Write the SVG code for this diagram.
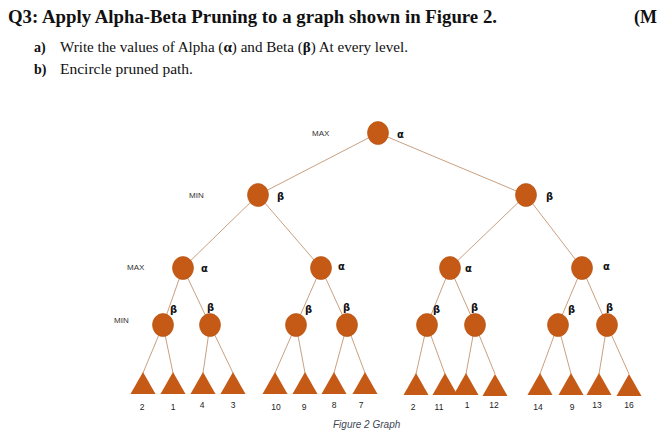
<svg xmlns="http://www.w3.org/2000/svg" width="658" height="440" viewBox="0 0 658 440">
<style>
.hd{font-family:"Liberation Serif","Times New Roman",serif;fill:#111}
.b{font-weight:bold}
.lv{font-family:"Liberation Sans",Arial,sans-serif;font-size:8px;fill:#333}
.gk{font-family:"DejaVu Sans","Liberation Sans",sans-serif;font-size:10px;font-weight:bold;fill:#111}
.num{font-family:"Liberation Sans",Arial,sans-serif;font-size:8.5px;fill:#222;text-anchor:middle}
.cap{font-family:"Liberation Sans",Arial,sans-serif;font-size:10px;font-style:italic;fill:#3e4654}
.edge{stroke:#c9a080;stroke-width:1;fill:none}
.nd{fill:#c55a16;stroke:#b5530f;stroke-width:0.6}
.lf{fill:#c55a16}
</style>
<rect width="658" height="440" fill="#ffffff"/>
<g id="header">
<text class="hd b" x="8" y="23" font-size="18" textLength="489" lengthAdjust="spacingAndGlyphs">Q3: Apply Alpha-Beta Pruning to a graph shown in Figure 2.</text>
<text class="hd b" x="634" y="23" font-size="18">(M</text>
<text class="hd b" x="34" y="52" font-size="14">a)</text>
<text class="hd" x="60" y="52" font-size="14" textLength="348" lengthAdjust="spacingAndGlyphs">Write the values of Alpha (<tspan font-weight="bold">α</tspan>) and Beta (<tspan font-weight="bold">β</tspan>) At every level.</text>
<text class="hd b" x="34" y="74" font-size="14">b)</text>
<text class="hd" x="60" y="74" font-size="14" textLength="133" lengthAdjust="spacingAndGlyphs">Encircle pruned path.</text>
</g>
<g id="connectors">
<line class="edge" x1="378" y1="133" x2="258" y2="195"/>
<line class="edge" x1="378" y1="133" x2="526" y2="195"/>
<line class="edge" x1="258" y1="195" x2="183" y2="268"/>
<line class="edge" x1="258" y1="195" x2="321" y2="268"/>
<line class="edge" x1="526" y1="195" x2="450" y2="268"/>
<line class="edge" x1="526" y1="195" x2="582" y2="268"/>
<line class="edge" x1="183" y1="268" x2="163" y2="325"/>
<line class="edge" x1="183" y1="268" x2="210" y2="325"/>
<line class="edge" x1="321" y1="268" x2="296" y2="325"/>
<line class="edge" x1="321" y1="268" x2="347" y2="325"/>
<line class="edge" x1="450" y1="268" x2="427" y2="325"/>
<line class="edge" x1="450" y1="268" x2="475" y2="325"/>
<line class="edge" x1="582" y1="268" x2="558" y2="325"/>
<line class="edge" x1="582" y1="268" x2="607" y2="325"/>
<line class="edge" x1="163" y1="325" x2="143" y2="373"/>
<line class="edge" x1="163" y1="325" x2="173" y2="373"/>
<line class="edge" x1="210" y1="325" x2="203" y2="373"/>
<line class="edge" x1="210" y1="325" x2="233" y2="373"/>
<line class="edge" x1="296" y1="325" x2="275" y2="373"/>
<line class="edge" x1="296" y1="325" x2="305" y2="373"/>
<line class="edge" x1="347" y1="325" x2="334" y2="373"/>
<line class="edge" x1="347" y1="325" x2="365" y2="373"/>
<line class="edge" x1="427" y1="325" x2="416" y2="374"/>
<line class="edge" x1="427" y1="325" x2="445" y2="374"/>
<line class="edge" x1="475" y1="325" x2="466" y2="374"/>
<line class="edge" x1="475" y1="325" x2="495" y2="374"/>
<line class="edge" x1="558" y1="325" x2="540" y2="374"/>
<line class="edge" x1="558" y1="325" x2="571" y2="374"/>
<line class="edge" x1="607" y1="325" x2="599" y2="374"/>
<line class="edge" x1="607" y1="325" x2="629" y2="374"/>
</g>
<g id="level-labels">
<text class="lv" x="312" y="136">MAX</text>
<text class="lv" x="189" y="198">MIN</text>
<text class="lv" x="127" y="270">MAX</text>
<text class="lv" x="114" y="323">MIN</text>
</g>
<g id="root"><ellipse class="nd" cx="378" cy="133" rx="10.5" ry="11.5"/><text class="gk" x="397" y="138">α</text></g>
<g id="min-1"><ellipse class="nd" cx="258" cy="195" rx="10.5" ry="11.5"/><text class="gk" x="277" y="200">β</text></g>
<g id="min-2"><ellipse class="nd" cx="526" cy="195" rx="10.5" ry="11.5"/><text class="gk" x="546" y="200">β</text></g>
<g id="max-1"><ellipse class="nd" cx="183" cy="268" rx="10.5" ry="11.5"/><text class="gk" x="201" y="272">α</text></g>
<g id="max-2"><ellipse class="nd" cx="321" cy="268" rx="10.5" ry="11.5"/><text class="gk" x="338" y="270">α</text></g>
<g id="max-3"><ellipse class="nd" cx="450" cy="268" rx="10.5" ry="11.5"/><text class="gk" x="465" y="272">α</text></g>
<g id="max-4"><ellipse class="nd" cx="582" cy="268" rx="10.5" ry="11.5"/><text class="gk" x="603" y="270">α</text></g>
<g id="min2-1"><ellipse class="nd" cx="163" cy="325" rx="10.5" ry="11.5"/><text class="gk" x="170" y="313">β</text></g>
<g id="min2-2"><ellipse class="nd" cx="210" cy="325" rx="10.5" ry="11.5"/><text class="gk" x="207" y="311">β</text></g>
<g id="min2-3"><ellipse class="nd" cx="296" cy="325" rx="10.5" ry="11.5"/><text class="gk" x="305" y="313">β</text></g>
<g id="min2-4"><ellipse class="nd" cx="347" cy="325" rx="10.5" ry="11.5"/><text class="gk" x="343" y="311">β</text></g>
<g id="min2-5"><ellipse class="nd" cx="427" cy="325" rx="10.5" ry="11.5"/><text class="gk" x="433" y="313">β</text></g>
<g id="min2-6"><ellipse class="nd" cx="475" cy="325" rx="10.5" ry="11.5"/><text class="gk" x="471" y="311">β</text></g>
<g id="min2-7"><ellipse class="nd" cx="558" cy="325" rx="10.5" ry="11.5"/><text class="gk" x="568" y="313">β</text></g>
<g id="min2-8"><ellipse class="nd" cx="607" cy="325" rx="10.5" ry="11.5"/><text class="gk" x="606" y="311">β</text></g>
<g id="leaf-1"><polygon class="lf" points="143,372 130.5,394 155.5,394"/><text class="num" x="142" y="410">2</text></g>
<g id="leaf-2"><polygon class="lf" points="173,372 160.5,394 185.5,394"/><text class="num" x="173" y="410">1</text></g>
<g id="leaf-3"><polygon class="lf" points="203,372 190.5,394 215.5,394"/><text class="num" x="202" y="408">4</text></g>
<g id="leaf-4"><polygon class="lf" points="233,372 220.5,394 245.5,394"/><text class="num" x="233" y="408">3</text></g>
<g id="leaf-5"><polygon class="lf" points="275,372 262.5,394 287.5,394"/><text class="num" x="276" y="410">10</text></g>
<g id="leaf-6"><polygon class="lf" points="305,372 292.5,394 317.5,394"/><text class="num" x="304" y="410">9</text></g>
<g id="leaf-7"><polygon class="lf" points="334,372 321.5,394 346.5,394"/><text class="num" x="334" y="408">8</text></g>
<g id="leaf-8"><polygon class="lf" points="365,372 352.5,394 377.5,394"/><text class="num" x="361" y="408">7</text></g>
<g id="leaf-9"><polygon class="lf" points="416,373 403.5,395 428.5,395"/><text class="num" x="413" y="410">2</text></g>
<g id="leaf-10"><polygon class="lf" points="445,373 432.5,395 457.5,395"/><text class="num" x="439" y="410">11</text></g>
<g id="leaf-11"><polygon class="lf" points="466,373 453.5,395 478.5,395"/><text class="num" x="467" y="408">1</text></g>
<g id="leaf-12"><polygon class="lf" points="495,374 482.5,396 507.5,396"/><text class="num" x="494" y="408">12</text></g>
<g id="leaf-13"><polygon class="lf" points="540,373 527.5,395 552.5,395"/><text class="num" x="538" y="410">14</text></g>
<g id="leaf-14"><polygon class="lf" points="571,373 558.5,395 583.5,395"/><text class="num" x="572" y="410">9</text></g>
<g id="leaf-15"><polygon class="lf" points="599,373 586.5,395 611.5,395"/><text class="num" x="597" y="408">13</text></g>
<g id="leaf-16"><polygon class="lf" points="629,374 616.5,396 641.5,396"/><text class="num" x="629" y="408">16</text></g>
<text class="cap" x="333" y="428">Figure 2 Graph</text>
</svg>
